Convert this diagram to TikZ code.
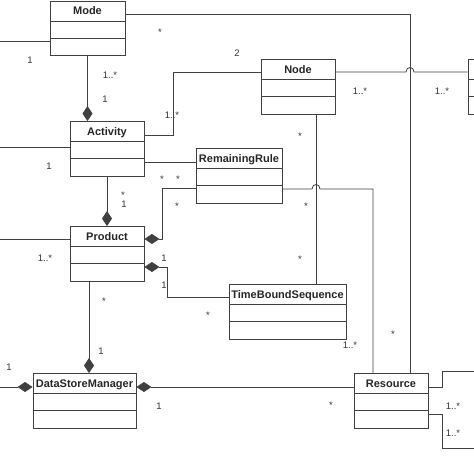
\documentclass[tikz,border=0pt]{standalone}
\usepackage{fontspec}
\setmainfont{Liberation Sans}
\usepackage{tikz}
\usetikzlibrary{shapes.multipart, arrows.meta}
\newcommand{\classname}[1]{\strut#1\nodepart{two}\nodepart{three}}
\tikzstyle{umlclass} = [rectangle split, rectangle split parts=3, draw=black!75, line width=0.8pt, inner xsep=2pt, inner ysep=0pt, rectangle split empty part height=16.3pt, rectangle split empty part depth=0pt, rectangle split empty part width=0pt, font=\fontsize{11}{19.5}\selectfont\bfseries, text=black!85, anchor=north]
\tikzstyle{assoc} = [draw=black!75, line width=0.8pt]
\tikzstyle{comp} = [assoc, -{Diamond[length=15pt, width=10pt]}]
\tikzstyle{compback} = [assoc, {Diamond[length=15pt, width=10pt]}-]
\tikzstyle{mult} = [font=\fontsize{9.5}{10}\selectfont, text=black!80, anchor=base, inner sep=0pt]

\begin{document}
\begin{tikzpicture}[x=1pt, y=-1pt]
\useasboundingbox (0,0) rectangle (474,474);
% classes
\node (Mode) [umlclass, minimum width=75pt] at (87.5,0.5) {\classname{Mode}};
\node (Activity) [umlclass, minimum width=74pt] at (107,121) {\classname{Activity}};
\node (Node) [umlclass, minimum width=74pt] at (298,59) {\classname{Node}};
\node (RightClass) [umlclass, minimum width=74pt] at (505,59) {\classname{}};
\node (RemainingRule) [umlclass, minimum width=86pt] at (239,148) {\classname{RemainingRule}};
\node (Product) [umlclass, minimum width=74pt] at (107,226) {\classname{Product}};
\node (TimeBoundSequence) [umlclass, minimum width=117pt] at (287.5,284) {\classname{TimeBoundSequence}};
\node (DataStoreManager) [umlclass, minimum width=103pt] at (84.5,373) {\classname{DataStoreManager}};
\node (Resource) [umlclass, minimum width=74pt] at (391,373) {\classname{Resource}};

% connectors
\draw [assoc] (Mode.west |- 0,41) -- ++(-60,0);
\draw [assoc] (Mode.east |- 0,14) -| ([xshift=19pt]Resource.north);
\draw [comp] (Mode.south) -- (Mode.south |- Activity.north);
\draw [assoc] (Activity.east |- 0,135) -- ++(29,0) |- (Node.west |- 0,72);
\draw [assoc] (Activity.west |- 0,147) -- ++(-80,0);
\draw [assoc] (Activity.east |- 0,162) -- (RemainingRule.west |- 0,162);
\draw [comp] (Activity.south) -- (Product.north);
\draw [comp] (RemainingRule.west |- 0,188) -- ++(-33,0) |- (Product.east |- 0,239);
\draw [assoc] (RemainingRule.east |- 0,189) -- (312,189) .. controls (312,183) and (320,183) .. (320,189) -| ([xshift=-18pt]Resource.north);
\draw [assoc] (Node.east |- 0,72) -- (406,72) .. controls (406,66) and (414,66) .. (414,72) -- (RightClass.west |- 0,72);
\draw [assoc] ([xshift=18pt]Node.south) -- ([xshift=18pt]Node.south |- TimeBoundSequence.north);
\draw [assoc] (Product.west |- 0,239) -- ++(-80,0);
\draw [compback] (Product.east |- 0,267) -- ++(23,0) |- (TimeBoundSequence.west |- 0,297);
\draw [comp] ([xshift=-18pt]Product.south) -- ([xshift=-18pt]Product.south |- DataStoreManager.north);
\draw [compback] (DataStoreManager.west |- 0,387) -- ++(-40,0);
\draw [compback] (DataStoreManager.east |- 0,387) -- (Resource.west |- 0,387);
\draw [assoc] (Resource.east |- 0,387) -- ++(14,0) |- ++(40,-16);
\draw [assoc] (Resource.east |- 0,414) -- ++(14,0) |- ++(40,34);

% multiplicities
\node (m1) [mult] at (30,63.2) {1};
\node (m2) [mult] at (160,35.3) {*};
\node (m3) [mult] at (110,78.2) {1..*};
\node (m4) [mult] at (105,102.2) {1};
\node (m5) [mult] at (237,56.2) {2};
\node (m6) [mult] at (172,118.2) {1..*};
\node (m7) [mult] at (360,94.2) {1..*};
\node (m8) [mult] at (442,94.2) {1..*};
\node (m9) [mult] at (300,139.3) {*};
\node (m10) [mult] at (49,169.2) {1};
\node (m11) [mult] at (162,182.3) {*};
\node (m12) [mult] at (178,182.3) {*};
\node (m13) [mult] at (123,198.3) {*};
\node (m14) [mult] at (124,207.2) {1};
\node (m15) [mult] at (177,209.3) {*};
\node (m16) [mult] at (306,209.3) {*};
\node (m17) [mult] at (45,261.2) {1..*};
\node (m18) [mult] at (164,261.2) {1};
\node (m19) [mult] at (164,288.2) {1};
\node (m20) [mult] at (300,262.3) {*};
\node (m21) [mult] at (104,304.3) {*};
\node (m22) [mult] at (208,318.3) {*};
\node (m23) [mult] at (101,354.2) {1};
\node (m24) [mult] at (9,370.2) {1};
\node (m25) [mult] at (350,348.2) {1..*};
\node (m26) [mult] at (393,337.3) {*};
\node (m27) [mult] at (159,409.2) {1};
\node (m28) [mult] at (331,408.3) {*};
\node (m29) [mult] at (453,409.2) {1..*};
\node (m30) [mult] at (453,436.2) {1..*};
\end{tikzpicture}
\end{document}
